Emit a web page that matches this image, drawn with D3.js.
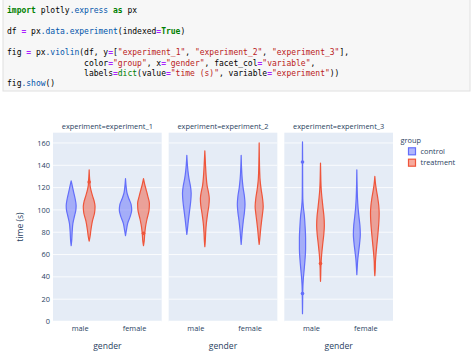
<!DOCTYPE html>
<html>
<head>
<meta charset="utf-8">
<script src="https://cdn.jsdelivr.net/npm/d3@7"></script>
<style>
  body { margin: 0; background: #fff; }
  svg { display: block; }
</style>
</head>
<body>
<div id="chart"></div>
<script>
// facets, categories and groups
var experiments = ["experiment_1", "experiment_2", "experiment_3"];
var genders = ["male", "female"];
var groups = ["control", "treatment"];
var groupColours = ["#636efa", "#EF553B"];
var yTicks = [0, 20, 40, 60, 80, 100, 120, 140, 160];

// violin outlines: [time (s), half width, 1 = widest violin]
var exp1MaleControl = [[68,0],[72,0.08],[80,0.16],[88,0.28],[95,0.56],[100,0.76],[104,0.8],[110,0.64],[116,0.4],[121,0.2],[126,0]];
var exp1MaleTreatment = [[72,0],[76,0.14],[82,0.28],[90,0.52],[97,0.86],[103,0.95],[108,0.8],[113,0.52],[118,0.28],[122,0.14],[126,0.1],[130,0.05],[136,0]];
var exp1FemaleControl = [[77,0],[82,0.15],[88,0.35],[94,0.75],[100,1],[105,0.9],[110,0.55],[115,0.25],[120,0.12],[128,0]];
var exp1FemaleTreatment = [[68,0],[72,0.11],[78,0.19],[85,0.33],[92,0.57],[100,0.9],[106,0.95],[112,0.71],[118,0.43],[123,0.19],[128,0]];
var exp2MaleControl = [[78,0],[85,0.14],[92,0.28],[100,0.46],[108,0.63],[115,0.7],[122,0.56],[128,0.35],[135,0.18],[142,0.07],[149,0]];
var exp2MaleTreatment = [[67,0],[72,0.07],[80,0.14],[88,0.25],[96,0.43],[104,0.65],[110,0.72],[116,0.58],[122,0.36],[130,0.22],[140,0.11],[147,0.05],[153,0]];
var exp2FemaleControl = [[69,0],[74,0.07],[82,0.19],[90,0.34],[98,0.53],[105,0.62],[112,0.53],[120,0.31],[128,0.16],[138,0.06],[149,0]];
var exp2FemaleTreatment = [[69,0],[74,0.1],[82,0.23],[90,0.39],[97,0.55],[103,0.65],[110,0.55],[118,0.33],[126,0.16],[135,0.08],[148,0.03],[160,0]];
var exp3MaleControl = [[7,0],[15,0.02],[25,0.04],[32,0.07],[38,0.13],[46,0.26],[55,0.4],[65,0.5],[75,0.5],[85,0.42],[95,0.3],[103,0.13],[110,0.05],[120,0.03],[135,0.02],[150,0.015],[161,0]];
var exp3MaleTreatment = [[36,0],[40,0.03],[48,0.06],[55,0.12],[62,0.22],[70,0.37],[78,0.53],[86,0.62],[94,0.56],[102,0.4],[110,0.25],[118,0.12],[126,0.06],[134,0.03],[142,0]];
var exp3FemaleControl = [[42,0],[48,0.06],[55,0.14],[62,0.28],[70,0.45],[78,0.56],[86,0.5],[94,0.34],[102,0.2],[110,0.11],[118,0.06],[126,0.03],[136,0]];
var exp3FemaleTreatment = [[41,0],[46,0.06],[54,0.1],[62,0.21],[70,0.35],[80,0.52],[90,0.66],[97,0.7],[104,0.63],[110,0.49],[116,0.31],[122,0.14],[130,0]];

// outlier points
var exp1MaleTreatmentOutliers = [125];
var exp1FemaleTreatmentOutliers = [79];
var exp3MaleControlOutliers = [143, 25];
var exp3MaleTreatmentOutliers = [52];

var violins = [
  { exp: "experiment_1", gender: "male", group: "control", profile: exp1MaleControl, outliers: [] },
  { exp: "experiment_1", gender: "male", group: "treatment", profile: exp1MaleTreatment, outliers: exp1MaleTreatmentOutliers },
  { exp: "experiment_1", gender: "female", group: "control", profile: exp1FemaleControl, outliers: [] },
  { exp: "experiment_1", gender: "female", group: "treatment", profile: exp1FemaleTreatment, outliers: exp1FemaleTreatmentOutliers },
  { exp: "experiment_2", gender: "male", group: "control", profile: exp2MaleControl, outliers: [] },
  { exp: "experiment_2", gender: "male", group: "treatment", profile: exp2MaleTreatment, outliers: [] },
  { exp: "experiment_2", gender: "female", group: "control", profile: exp2FemaleControl, outliers: [] },
  { exp: "experiment_2", gender: "female", group: "treatment", profile: exp2FemaleTreatment, outliers: [] },
  { exp: "experiment_3", gender: "male", group: "control", profile: exp3MaleControl, outliers: exp3MaleControlOutliers },
  { exp: "experiment_3", gender: "male", group: "treatment", profile: exp3MaleTreatment, outliers: exp3MaleTreatmentOutliers },
  { exp: "experiment_3", gender: "female", group: "control", profile: exp3FemaleControl, outliers: [] },
  { exp: "experiment_3", gender: "female", group: "treatment", profile: exp3FemaleTreatment, outliers: [] }
];

// code cell lines: [text, token kind]
var codeLines = [
  [["import","kw"],[" plotly","n"],[".express","p"],[" ","n"],["as","kw"],[" px","n"]],
  [],
  [["df ","n"],["=","op"],[" px","n"],[".data","p"],[".experiment","p"],["(indexed","n"],["=","op"],["True","kw"],[")","n"]],
  [],
  [["fig ","n"],["=","op"],[" px","n"],[".violin","p"],["(df, y","n"],["=","op"],["[","n"],["\"experiment_1\"","s"],[", ","n"],["\"experiment_2\"","s"],[", ","n"],["\"experiment_3\"","s"],["],","n"]],
  [["                color","n"],["=","op"],["\"group\"","s"],[", x","n"],["=","op"],["\"gender\"","s"],[", facet_col","n"],["=","op"],["\"variable\"","s"],[",","n"]],
  [["                labels","n"],["=","op"],["dict","bi"],["(value","n"],["=","op"],["\"time (s)\"","s"],[", variable","n"],["=","op"],["\"experiment\"","s"],["))","n"]],
  [["fig","n"],[".show","p"],["()","n"]]
];
var tokenColour = { kw: "#008000", n: "#000000", p: "#0055aa", op: "#aa22ff", s: "#ba2121", bi: "#008000" };

var width = 474, height = 363;
var fontFamily = "'Open Sans', verdana, arial, sans-serif";
var textColour = "#2a3f5f";

var svg = d3.select("#chart").append("svg")
  .attr("width", width)
  .attr("height", height);

// ---- code cell ----
svg.append("rect")
  .attr("x", 3).attr("y", -1)
  .attr("width", 467).attr("height", 92)
  .attr("fill", "#f7f7f7")
  .attr("stroke", "#e0e0e0");

var codeText = svg.append("g")
  .attr("font-family", "'DejaVu Sans Mono', monospace")
  .attr("font-size", 8);

codeLines.forEach(function(line, i) {
  var t = codeText.append("text")
    .attr("x", 7)
    .attr("y", 10.5 + i * 10.45)
    .attr("dy", "0.35em")
    .style("white-space", "pre");
  line.forEach(function(tok) {
    t.append("tspan")
      .attr("fill", tokenColour[tok[1]])
      .attr("font-weight", (tok[1] === "kw" || tok[1] === "op") ? "bold" : "normal")
      .text(tok[0]);
  });
});

// ---- scales ----
var plotTop = 132.7, plotBottom = 321.5;
var y = d3.scaleLinear().domain([0, 169.2]).range([plotBottom, plotTop]);

var xPanel = d3.scaleBand().domain(experiments).range([53, 393]).paddingInner(0.0605);
var xGender = d3.scaleBand().domain(genders).range([0, xPanel.bandwidth()]);
var xGroup = d3.scalePoint().domain(groups).range([-9, 9]);
var halfWidth = d3.scaleLinear().domain([0, 1]).range([0, 6.2]);
var colour = d3.scaleOrdinal().domain(groups).range(groupColours);

// ---- panels ----
var panels = svg.selectAll(".panel")
  .data(experiments)
  .enter().append("g")
  .attr("class", "panel")
  .attr("transform", function(d) { return "translate(" + xPanel(d) + ",0)"; });

panels.append("rect")
  .attr("x", 0).attr("y", plotTop)
  .attr("width", xPanel.bandwidth())
  .attr("height", plotBottom - plotTop)
  .attr("fill", "#E5ECF6");

panels.selectAll(".grid")
  .data(yTicks)
  .enter().append("line")
  .attr("class", "grid")
  .attr("x1", 0).attr("x2", xPanel.bandwidth())
  .attr("y1", function(d) { return y(d); })
  .attr("y2", function(d) { return y(d); })
  .attr("stroke", "#fff")
  .attr("stroke-width", function(d) { return d === 0 ? 1.4 : 0.8; });

// facet titles
panels.append("text")
  .attr("x", xPanel.bandwidth() / 2)
  .attr("y", 126)
  .attr("dy", "0.35em")
  .attr("text-anchor", "middle")
  .attr("font-family", fontFamily)
  .attr("font-size", 7.4)
  .attr("fill", textColour)
  .text(function(d) { return "experiment=" + d; });

// x axis tick labels
panels.selectAll(".xtick")
  .data(genders)
  .enter().append("text")
  .attr("class", "xtick")
  .attr("x", function(d) { return xGender(d) + xGender.bandwidth() / 2; })
  .attr("y", 328.5)
  .attr("dy", "0.35em")
  .attr("text-anchor", "middle")
  .attr("font-family", fontFamily)
  .attr("font-size", 7.4)
  .attr("fill", textColour)
  .text(function(d) { return d; });

// x axis titles
panels.append("text")
  .attr("x", xPanel.bandwidth() / 2)
  .attr("y", 346)
  .attr("dy", "0.35em")
  .attr("text-anchor", "middle")
  .attr("font-family", fontFamily)
  .attr("font-size", 8.6)
  .attr("fill", textColour)
  .text("gender");

// y axis tick labels
svg.selectAll(".ytick")
  .data(yTicks)
  .enter().append("text")
  .attr("class", "ytick")
  .attr("x", 50)
  .attr("y", function(d) { return y(d); })
  .attr("dy", "0.35em")
  .attr("text-anchor", "end")
  .attr("font-family", fontFamily)
  .attr("font-size", 7.4)
  .attr("fill", textColour)
  .text(function(d) { return d; });

svg.append("text")
  .attr("transform", "translate(20," + ((plotTop + plotBottom) / 2) + ") rotate(-90)")
  .attr("dy", "0.35em")
  .attr("text-anchor", "middle")
  .attr("font-family", fontFamily)
  .attr("font-size", 8.6)
  .attr("fill", textColour)
  .text("time (s)");

// ---- violins ----
function centre(v) {
  return xPanel(v.exp) + xGender(v.gender) + xGender.bandwidth() / 2 + xGroup(v.group);
}

var area = d3.area()
  .curve(d3.curveMonotoneY)
  .y(function(d) { return y(d[0]); });

var violin = svg.selectAll(".violin")
  .data(violins)
  .enter().append("g")
  .attr("class", "violin");

violin.append("path")
  .attr("d", function(v) {
    var cx = centre(v);
    return area
      .x0(function(d) { return cx - halfWidth(d[1]); })
      .x1(function(d) { return cx + halfWidth(d[1]); })(v.profile);
  })
  .attr("fill", function(v) { return colour(v.group); })
  .attr("fill-opacity", 0.5)
  .attr("stroke", function(v) { return colour(v.group); })
  .attr("stroke-width", 1.2)
  .attr("stroke-linejoin", "round");

violin.selectAll(".outlier")
  .data(function(v) { return v.outliers.map(function(o) { return { v: v, value: o }; }); })
  .enter().append("circle")
  .attr("class", "outlier")
  .attr("cx", function(d) { return centre(d.v); })
  .attr("cy", function(d) { return y(d.value); })
  .attr("r", 1.8)
  .attr("fill", function(d) { return colour(d.v.group); });

// ---- legend ----
var legend = svg.append("g")
  .attr("font-family", fontFamily)
  .attr("fill", textColour);

legend.append("text")
  .attr("x", 400.5).attr("y", 140)
  .attr("dy", "0.35em")
  .attr("font-size", 7.4)
  .text("group");

var item = legend.selectAll(".item")
  .data(groups)
  .enter().append("g")
  .attr("class", "item")
  .attr("transform", function(d, i) { return "translate(0," + (151.3 + i * 11.4) + ")"; });

item.append("rect")
  .attr("x", 408.5).attr("y", -3.5)
  .attr("width", 7).attr("height", 7)
  .attr("fill", function(d) { return colour(d); })
  .attr("fill-opacity", 0.5)
  .attr("stroke", function(d) { return colour(d); })
  .attr("stroke-width", 1.2);

item.append("text")
  .attr("x", 420.5)
  .attr("dy", "0.35em")
  .attr("font-size", 7.4)
  .text(function(d) { return d; });
</script>
</body>
</html>
